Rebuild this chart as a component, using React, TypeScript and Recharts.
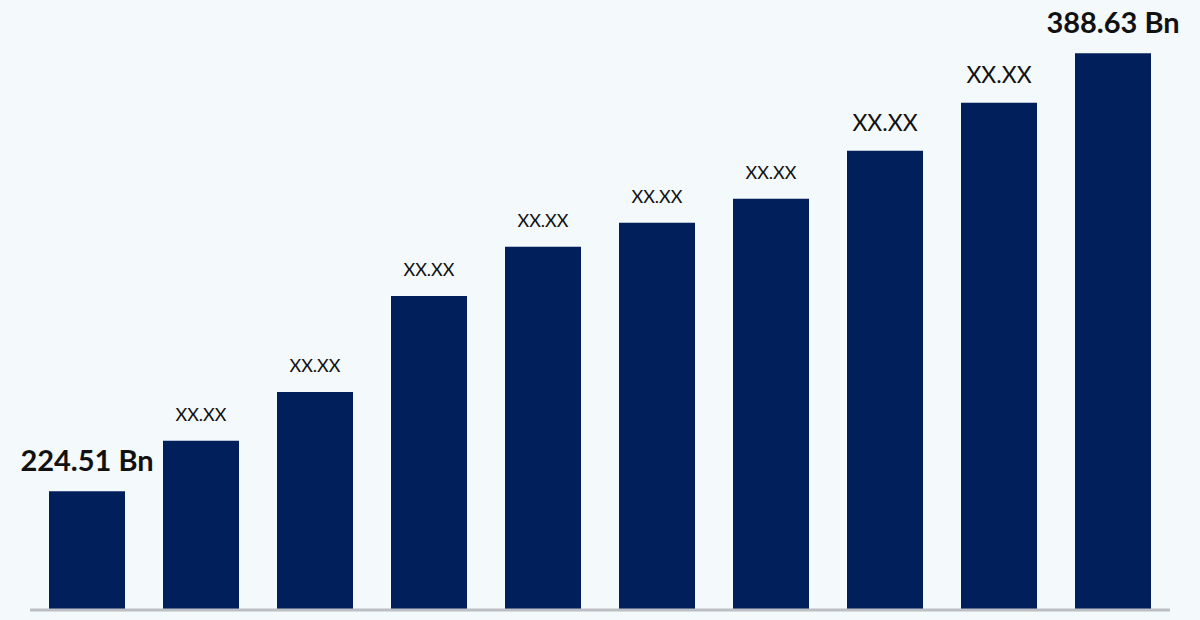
import { BarChart, Bar, XAxis, YAxis, LabelList } from 'recharts'

// market size by year, Bn (middle years are not disclosed, heights)
const years = ['2024', '2025', '2026', '2027', '2028', '2029', '2030', '2031', '2032', '2033']
const values = [224.51, 243.4, 261.7, 297.7, 316.1, 325.1, 334.1, 352.1, 370.1, 388.63]
const valueLabels = ['224.51 Bn', 'XX.XX', 'XX.XX', 'XX.XX', 'XX.XX', 'XX.XX', 'XX.XX', 'XX.XX', 'XX.XX', '388.63 Bn']
const labelKinds = ['bold', 'small', 'small', 'small', 'small', 'small', 'small', 'large', 'large', 'bold']

const chartData = years.map((year, i) => ({
  year,
  value: values[i],
  label: valueLabels[i],
}))

const BAR_COLOR = '#001f5b'
const BG = '#f4f9fb'

function ValueLabel(props: any) {
  const { x, y, width, index } = props
  const kind = labelKinds[index]
  const size = kind === 'bold' ? 29 : kind === 'large' ? 23 : 18
  return (
    <text
      x={x + width / 2}
      y={y - 20}
      textAnchor="middle"
      fontFamily="Lato, 'Open Sans', sans-serif"
      fontSize={size}
      fontWeight={kind === 'bold' ? 700 : 400}
      fill="#111111"
    >
      {valueLabels[index]}
    </text>
  )
}

export default function App() {
  return (
    <div style={{ position: 'absolute', left: 0, top: 0, width: 1200, height: 620, background: BG }}>
      <BarChart
        width={1200}
        height={620}
        data={chartData}
        margin={{ top: 23, right: 30, bottom: 9, left: 30 }}
        barSize={76}
      >
        <XAxis
          dataKey="year"
          height={1}
          tick={false}
          tickLine={false}
          axisLine={{ stroke: '#bcc0c4', strokeWidth: 3 }}
        />
        <YAxis hide domain={[180, 400]} allowDataOverflow />
        <Bar dataKey="value" fill={BAR_COLOR} isAnimationActive={false}>
          <LabelList dataKey="label" content={<ValueLabel />} />
        </Bar>
      </BarChart>
    </div>
  )
}
